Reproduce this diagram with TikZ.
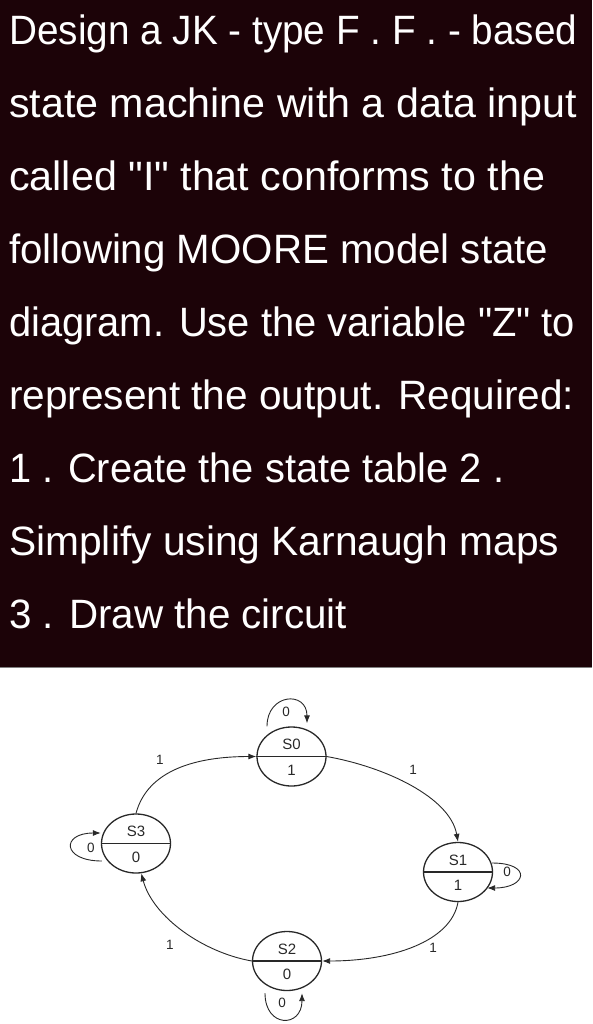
\documentclass[tikz,border=0pt]{standalone}
\usepackage{fontspec}
\setmainfont{Liberation Sans}[Ligatures=TeXOff]
\usetikzlibrary{shapes.geometric,arrows.meta,positioning}
\definecolor{qbg}{RGB}{28,3,8}
\definecolor{ink}{RGB}{40,40,40}
\tikzset{qline/.style={anchor=base west, inner sep=0pt, text=white,
        font=\fontsize{41}{41}\selectfont},
    state/.style={ellipse, draw=ink, line width=1.3pt,
        minimum width=69pt, minimum height=59pt, inner sep=0pt},
    stlab/.style={inner sep=0pt, text=ink, font=\fontsize{15}{15}\selectfont},
    edgelab/.style={inner sep=0pt, text=ink, font=\fontsize{13.5}{13.5}\selectfont},
    trans/.style={draw=ink, line width=0.9pt, -{Latex[length=8pt,width=6pt]}},
    }

\begin{document}
\begin{tikzpicture}[x=1pt, y=-1pt]
	\useasboundingbox (0,0) rectangle (592,1024);
	\fill[qbg] (0,0) rectangle (592,667);
	\draw[gray, line width=1pt] (0,667) -- (592,667);
	% question text, each line stretched to the width it has in the picture
	\foreach \ln/\w [count=\i] in {Design a JK - type F . F . - based/568,
		state machine with a data input/568,
		called "I" that conforms to the/536,
		following MOORE model state/539,
		diagram. Use the variable "Z" to/566,
		represent the output. Required:/565,
		1 . Create the state table 2 ./495,
		Simplify using Karnaugh maps/550,
		3 . Draw the circuit/338}
		\node[qline] (line\i) at (9,{45+72.9*(\i-1)}) {\resizebox{\w pt}{\height}{\ln}};
	% states
	\foreach \nm/\x/\y/\sn/\out in {sZero/291.5/756.5/S0/1, sOne/458/872/S1/1,
		sTwo/287/961/S2/0, sThree/136/843.5/S3/0}{
		\node[state] (\nm) at (\x,\y) {};
		\draw[ink, line width=1.3pt] (\nm.west) -- (\nm.east);
		\node[stlab] (\nm-name) at ([yshift=12pt]\nm.center) {\sn};
		\node[stlab] (\nm-out) at ([yshift=-13.5pt]\nm.center) {\out};
	}
	\draw[trans] (sThree.north)..controls +(75:45pt) and +(180:60pt)..(sZero.west);
	\draw[trans] (sZero.east)..controls +(-10:60pt) and +(100:45pt)..(sOne.north);
	\draw[trans] (sOne.south)..controls +(-100:40pt) and +(0:70pt)..(sTwo.east);
	\draw[trans] (sTwo.west)..controls +(170:50pt) and +(-75:45pt)..(sThree.-80);
	% self loops
	\draw[trans] ([xshift=-24.5pt]sZero.north)..controls +(90:33pt) and +(90:33pt)..([xshift=15.5pt,yshift=3pt]sZero.north);
	\draw[trans] ([xshift=1pt,yshift=-17.5pt]sThree.west)..controls +(180:40pt) and +(180:40pt)..([yshift=10.5pt]sThree.west);
	\draw[trans] ([xshift=-1pt,yshift=9pt]sOne.east)..controls +(0:40pt) and +(0:40pt)..([xshift=-6pt,yshift=-16pt]sOne.east);
	\draw[trans] ([xshift=-22pt,yshift=-2pt]sTwo.south)..controls +(-90:35pt) and +(-90:35pt)..([xshift=15pt,yshift=-2pt]sTwo.south);
	% labels
	\node[edgelab] (l30) at (160,760) {1};
	\node[edgelab] (l01) at (413,770) {1};
	\node[edgelab] (l12) at (433,948) {1};
	\node[edgelab] (l23) at (170,945) {1};
	\node[edgelab] (l00) at (286,712) {0};
	\node[edgelab] (l33) at (91,848) {0};
	\node[edgelab] (l11) at (507,872) {0};
	\node[edgelab] (l22) at (282,1003) {0};
\end{tikzpicture}
\end{document}
